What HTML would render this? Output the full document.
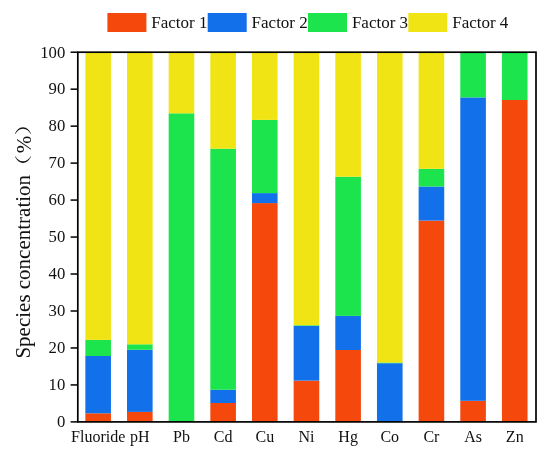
<!DOCTYPE html>
<html><head><meta charset="utf-8"><title>Species concentration</title>
<style>
html,body{margin:0;padding:0;background:#fff;}
body{width:550px;height:454px;overflow:hidden;}
svg text{font-family:"Liberation Serif","Noto Serif CJK SC",serif;fill:#111;}
</style></head><body>
<svg width="550" height="454" viewBox="0 0 550 454" style="display:block">
<rect width="550" height="454" fill="#fff"/>
<g shape-rendering="auto">
<rect x="85.35" y="413.30" width="25.6" height="8.60" fill="#f4480c"/>
<rect x="85.35" y="356.00" width="25.6" height="57.30" fill="#1170ea"/>
<rect x="85.35" y="339.90" width="25.6" height="16.10" fill="#1be44c"/>
<rect x="85.35" y="52.20" width="25.6" height="287.70" fill="#f0e414"/>
<rect x="127.01" y="411.90" width="25.6" height="10.00" fill="#f4480c"/>
<rect x="127.01" y="349.80" width="25.6" height="62.10" fill="#1170ea"/>
<rect x="127.01" y="344.30" width="25.6" height="5.50" fill="#1be44c"/>
<rect x="127.01" y="52.20" width="25.6" height="292.10" fill="#f0e414"/>
<rect x="168.67" y="113.30" width="25.6" height="308.60" fill="#1be44c"/>
<rect x="168.67" y="52.20" width="25.6" height="61.10" fill="#f0e414"/>
<rect x="210.33" y="403.00" width="25.6" height="18.90" fill="#f4480c"/>
<rect x="210.33" y="389.80" width="25.6" height="13.20" fill="#1170ea"/>
<rect x="210.33" y="148.70" width="25.6" height="241.10" fill="#1be44c"/>
<rect x="210.33" y="52.20" width="25.6" height="96.50" fill="#f0e414"/>
<rect x="251.99" y="203.10" width="25.6" height="218.80" fill="#f4480c"/>
<rect x="251.99" y="193.10" width="25.6" height="10.00" fill="#1170ea"/>
<rect x="251.99" y="119.90" width="25.6" height="73.20" fill="#1be44c"/>
<rect x="251.99" y="52.20" width="25.6" height="67.70" fill="#f0e414"/>
<rect x="293.65" y="380.60" width="25.6" height="41.30" fill="#f4480c"/>
<rect x="293.65" y="325.90" width="25.6" height="54.70" fill="#1170ea"/>
<rect x="293.65" y="325.20" width="25.6" height="0.70" fill="#1be44c"/>
<rect x="293.65" y="52.20" width="25.6" height="273.00" fill="#f0e414"/>
<rect x="335.31" y="350.00" width="25.6" height="71.90" fill="#f4480c"/>
<rect x="335.31" y="315.90" width="25.6" height="34.10" fill="#1170ea"/>
<rect x="335.31" y="176.70" width="25.6" height="139.20" fill="#1be44c"/>
<rect x="335.31" y="52.20" width="25.6" height="124.50" fill="#f0e414"/>
<rect x="376.97" y="363.20" width="25.6" height="58.70" fill="#1170ea"/>
<rect x="376.97" y="362.50" width="25.6" height="0.70" fill="#1be44c"/>
<rect x="376.97" y="52.20" width="25.6" height="310.30" fill="#f0e414"/>
<rect x="418.63" y="220.60" width="25.6" height="201.30" fill="#f4480c"/>
<rect x="418.63" y="186.50" width="25.6" height="34.10" fill="#1170ea"/>
<rect x="418.63" y="168.80" width="25.6" height="17.70" fill="#1be44c"/>
<rect x="418.63" y="52.20" width="25.6" height="116.60" fill="#f0e414"/>
<rect x="460.29" y="400.80" width="25.6" height="21.10" fill="#f4480c"/>
<rect x="460.29" y="97.40" width="25.6" height="303.40" fill="#1170ea"/>
<rect x="460.29" y="52.20" width="25.6" height="45.20" fill="#1be44c"/>
<rect x="501.95" y="100.00" width="25.6" height="321.90" fill="#f4480c"/>
<rect x="501.95" y="52.20" width="25.6" height="47.80" fill="#1be44c"/>
</g>
<rect x="77.8" y="52.2" width="458.2" height="369.7" fill="none" stroke="#000" stroke-width="1.7"/>
<line x1="70.6" y1="421.90" x2="77.8" y2="421.90" stroke="#000" stroke-width="1.5"/>
<text x="65.3" y="427.20" font-size="16.7" text-anchor="end">0</text>
<line x1="70.6" y1="384.93" x2="77.8" y2="384.93" stroke="#000" stroke-width="1.5"/>
<text x="65.3" y="390.23" font-size="16.7" text-anchor="end">10</text>
<line x1="70.6" y1="347.96" x2="77.8" y2="347.96" stroke="#000" stroke-width="1.5"/>
<text x="65.3" y="353.26" font-size="16.7" text-anchor="end">20</text>
<line x1="70.6" y1="310.99" x2="77.8" y2="310.99" stroke="#000" stroke-width="1.5"/>
<text x="65.3" y="316.29" font-size="16.7" text-anchor="end">30</text>
<line x1="70.6" y1="274.02" x2="77.8" y2="274.02" stroke="#000" stroke-width="1.5"/>
<text x="65.3" y="279.32" font-size="16.7" text-anchor="end">40</text>
<line x1="70.6" y1="237.05" x2="77.8" y2="237.05" stroke="#000" stroke-width="1.5"/>
<text x="65.3" y="242.35" font-size="16.7" text-anchor="end">50</text>
<line x1="70.6" y1="200.08" x2="77.8" y2="200.08" stroke="#000" stroke-width="1.5"/>
<text x="65.3" y="205.38" font-size="16.7" text-anchor="end">60</text>
<line x1="70.6" y1="163.11" x2="77.8" y2="163.11" stroke="#000" stroke-width="1.5"/>
<text x="65.3" y="168.41" font-size="16.7" text-anchor="end">70</text>
<line x1="70.6" y1="126.14" x2="77.8" y2="126.14" stroke="#000" stroke-width="1.5"/>
<text x="65.3" y="131.44" font-size="16.7" text-anchor="end">80</text>
<line x1="70.6" y1="89.17" x2="77.8" y2="89.17" stroke="#000" stroke-width="1.5"/>
<text x="65.3" y="94.47" font-size="16.7" text-anchor="end">90</text>
<line x1="70.6" y1="52.20" x2="77.8" y2="52.20" stroke="#000" stroke-width="1.5"/>
<text x="65.3" y="57.50" font-size="16.7" text-anchor="end">100</text>
<text x="98.15" y="441.9" font-size="16" text-anchor="middle">Fluoride</text>
<text x="139.81" y="441.9" font-size="16" text-anchor="middle">pH</text>
<text x="181.47" y="441.9" font-size="16" text-anchor="middle">Pb</text>
<text x="223.13" y="441.9" font-size="16" text-anchor="middle">Cd</text>
<text x="264.79" y="441.9" font-size="16" text-anchor="middle">Cu</text>
<text x="306.45" y="441.9" font-size="16" text-anchor="middle">Ni</text>
<text x="348.11" y="441.9" font-size="16" text-anchor="middle">Hg</text>
<text x="389.77" y="441.9" font-size="16" text-anchor="middle">Co</text>
<text x="431.43" y="441.9" font-size="16" text-anchor="middle">Cr</text>
<text x="473.09" y="441.9" font-size="16" text-anchor="middle">As</text>
<text x="514.75" y="441.9" font-size="16" text-anchor="middle">Zn</text>
<text transform="translate(29.9,358.6) rotate(-90)" font-size="21">Species concentration</text>
<text transform="translate(29.7,178.3) rotate(-90) scale(1.38,1)" font-size="17.1" style="font-family:'Noto Serif CJK SC','Liberation Serif',serif">（</text>
<text transform="translate(31.0,153.3) rotate(-90)" font-size="21">%</text>
<text transform="translate(29.7,135.4) rotate(-90) scale(1.38,1)" font-size="17.1" style="font-family:'Noto Serif CJK SC','Liberation Serif',serif">）</text>
<rect x="107.40" y="13" width="39" height="19" fill="#f4480c"/>
<text x="151.30" y="28.3" font-size="17">Factor 1</text>
<rect x="207.70" y="13" width="39" height="19" fill="#1170ea"/>
<text x="251.60" y="28.3" font-size="17">Factor 2</text>
<rect x="308.00" y="13" width="39" height="19" fill="#1be44c"/>
<text x="351.90" y="28.3" font-size="17">Factor 3</text>
<rect x="408.30" y="13" width="39" height="19" fill="#f0e414"/>
<text x="452.20" y="28.3" font-size="17">Factor 4</text>
</svg>
</body></html>
